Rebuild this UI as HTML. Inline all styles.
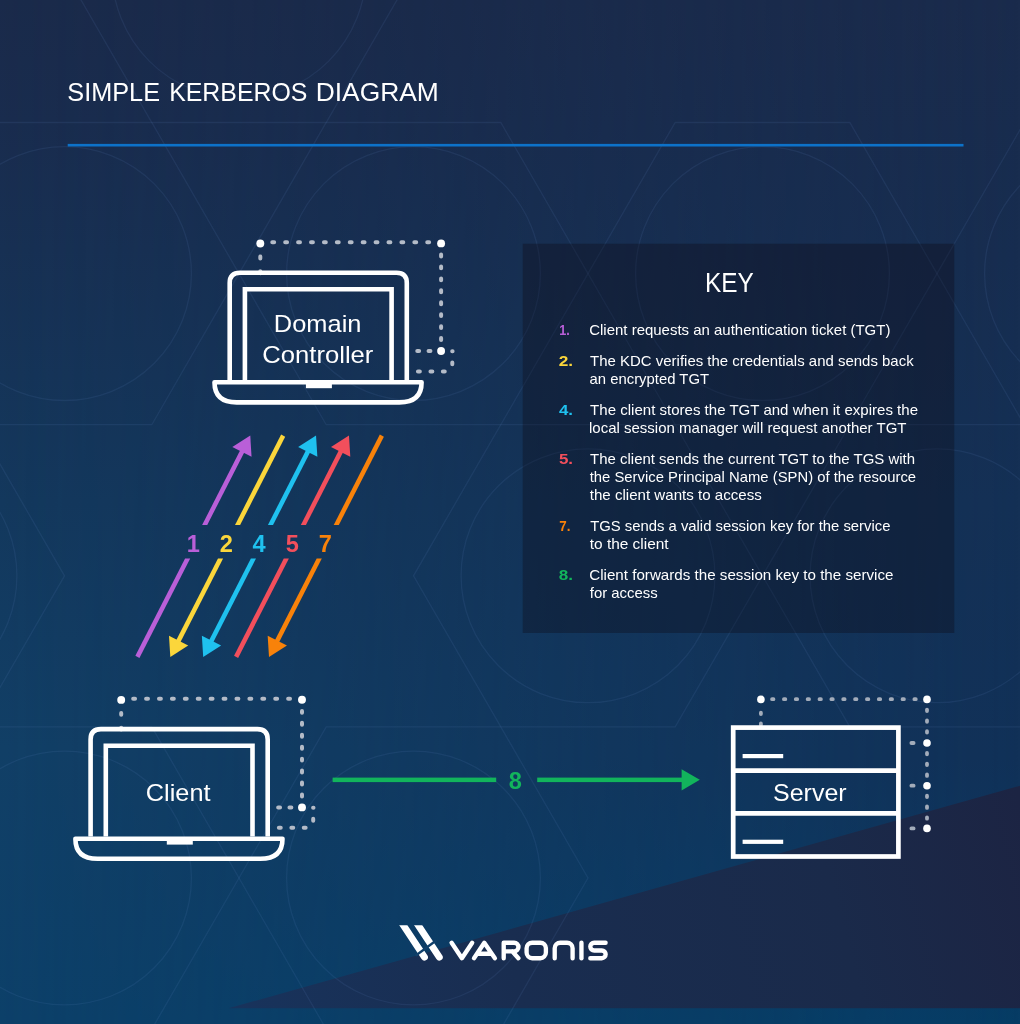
<!DOCTYPE html>
<html>
<head>
<meta charset="utf-8">
<title>Simple Kerberos Diagram</title>
<style>
html,body{margin:0;padding:0;background:#16365f;}
body{width:1020px;height:1024px;overflow:hidden;font-family:"Liberation Sans",sans-serif;}
svg{display:block;will-change:transform;}
text{font-family:"Liberation Sans",sans-serif;}
</style>
</head>
<body>
<svg width="1020" height="1024" viewBox="0 0 1020 1024">
<defs>
  <linearGradient id="bgR" x1="0" y1="0" x2="0" y2="1024" gradientUnits="userSpaceOnUse">
    <stop offset="0" stop-color="#1a2b4c"/>
    <stop offset="0.25" stop-color="#172d50"/>
    <stop offset="0.49" stop-color="#143055"/>
    <stop offset="0.74" stop-color="#113158"/>
    <stop offset="0.9" stop-color="#0b3760"/>
    <stop offset="1" stop-color="#063c65"/>
  </linearGradient>
  <linearGradient id="bgL" x1="0" y1="0" x2="0" y2="1024" gradientUnits="userSpaceOnUse">
    <stop offset="0" stop-color="#1a2a4a"/>
    <stop offset="0.12" stop-color="#192c4e"/>
    <stop offset="0.49" stop-color="#13385d"/>
    <stop offset="0.73" stop-color="#113f66"/>
    <stop offset="1" stop-color="#0c4069"/>
  </linearGradient>
  <linearGradient id="fadeX" x1="0" y1="0" x2="1020" y2="0" gradientUnits="userSpaceOnUse">
    <stop offset="0" stop-color="#fff" stop-opacity="1"/>
    <stop offset="1" stop-color="#fff" stop-opacity="0"/>
  </linearGradient>
  <mask id="mL" maskUnits="userSpaceOnUse" x="0" y="0" width="1020" height="1024">
    <rect width="1020" height="1024" fill="url(#fadeX)"/>
  </mask>
  <linearGradient id="tri" x1="228" y1="1008" x2="1020" y2="800" gradientUnits="userSpaceOnUse">
    <stop offset="0" stop-color="#18335c"/>
    <stop offset="0.35" stop-color="#192d50"/>
    <stop offset="0.75" stop-color="#1a2a4a"/>
    <stop offset="1" stop-color="#1c2443"/>
  </linearGradient>
  <g id="laptop">
    <path fill="none" stroke="#b4bbc7" stroke-width="4.0" stroke-linecap="round" d="M272.26 242.30h1.9M285.18 242.30h1.9M298.09 242.30h1.9M311.01 242.30h1.9M323.92 242.30h1.9M336.83 242.30h1.9M349.75 242.30h1.9M362.66 242.30h1.9M375.58 242.30h1.9M388.49 242.30h1.9M401.40 242.30h1.9M414.32 242.30h1.9M427.23 242.30h1.9M441.10 254.49v1.9M441.10 266.44v1.9M441.10 278.38v1.9M441.10 290.33v1.9M441.10 302.27v1.9M441.10 314.21v1.9M441.10 326.16v1.9M441.10 338.10v1.9M260.30 256.55v1.9M260.30 271.25v1.9M417.25 351.10h1.9M428.55 351.10h1.9M452.2 351.3h0.4M452.30 362.45v1.9M417.95 371.40h1.9M430.45 371.40h1.9M442.85 371.40h1.9"/>
    <circle cx="260.3" cy="243.5" r="3.95" fill="#fff"/>
    <circle cx="441.1" cy="243.4" r="3.95" fill="#fff"/>
    <circle cx="441.1" cy="351.0" r="3.95" fill="#fff"/>
    <path d="M229.7 380 V283 Q229.7 272.7 240 272.7 H396.5 Q406.8 272.7 406.8 283 V380" fill="none" stroke="#fff" stroke-width="4.6"/>
    <path d="M244.9 380 V289.3 H391.6 V380" fill="none" stroke="#fff" stroke-width="4.6"/>
    <path d="M214.5 382.3 H421.6 Q421.6 402.4 399.4 402.4 H236.7 Q214.5 402.4 214.5 382.3 Z" fill="none" stroke="#fff" stroke-width="4.6" stroke-linejoin="round"/>
    <rect x="305.9" y="382" width="26" height="6.2" fill="#fff"/>
  </g>
</defs>
<rect width="1020" height="1024" fill="url(#bgR)"/>
<rect width="1020" height="1024" fill="url(#bgL)" mask="url(#mL)"/>
<polygon points="228.5,1008.3 1020,785.8 1020,1008.3" fill="url(#tri)"/>

<g fill="none" stroke="#6a93d0" stroke-opacity="0.11" stroke-width="1.3">
<polygon points="413.5,-28.6 326.2,122.5 151.8,122.5 64.5,-28.6 151.8,-179.7 326.2,-179.7"/><circle cx="239" cy="-28.6" r="126.9"/>
<polygon points="239.0,273.6 151.8,424.7 -22.8,424.7 -110.0,273.6 -22.8,122.5 151.8,122.5"/><circle cx="64.5" cy="273.6" r="126.9"/>
<polygon points="588.0,273.6 500.8,424.7 326.2,424.7 239.0,273.6 326.2,122.5 500.8,122.5"/><circle cx="413.5" cy="273.6" r="126.9"/>
<polygon points="937.0,273.6 849.8,424.7 675.2,424.7 588.0,273.6 675.2,122.5 849.8,122.5"/><circle cx="762.5" cy="273.6" r="126.9"/>
<polygon points="1286.0,273.6 1198.8,424.7 1024.2,424.7 937.0,273.6 1024.2,122.5 1198.8,122.5"/><circle cx="1111.5" cy="273.6" r="126.9"/>
<polygon points="64.5,575.8 -22.8,726.9 -197.2,726.9 -284.5,575.8 -197.2,424.7 -22.8,424.7"/><circle cx="-110" cy="575.8" r="126.9"/>
<polygon points="762.5,575.8 675.2,726.9 500.8,726.9 413.5,575.8 500.8,424.7 675.2,424.7"/><circle cx="588" cy="575.8" r="126.9"/>
<polygon points="1111.5,575.8 1024.2,726.9 849.8,726.9 762.5,575.8 849.8,424.7 1024.2,424.7"/><circle cx="937" cy="575.8" r="126.9"/>
<polygon points="239.0,878.0 151.8,1029.1 -22.8,1029.1 -110.0,878.0 -22.8,726.9 151.8,726.9"/><circle cx="64.5" cy="878" r="126.9"/>
<polygon points="588.0,878.0 500.8,1029.1 326.2,1029.1 239.0,878.0 326.2,726.9 500.8,726.9"/><circle cx="413.5" cy="878" r="126.9"/>
</g>


<!-- title -->
<text x="67.29" y="101.4" font-size="26.2" fill="#fff" textLength="92.73" lengthAdjust="spacingAndGlyphs">SIMPLE</text>
<text x="169.20" y="101.4" font-size="26.2" fill="#fff" textLength="138.22" lengthAdjust="spacingAndGlyphs">KERBEROS</text>
<text x="315.68" y="101.4" font-size="26.2" fill="#fff" textLength="123.15" lengthAdjust="spacingAndGlyphs">DIAGRAM</text>
<rect x="67.7" y="143.9" width="895.8" height="2.6" fill="#0d72c9"/>

<!-- key panel -->
<rect x="522.7" y="243.7" width="431.6" height="389.3" fill="#0b0005" fill-opacity="0.27"/>
<text x="704.92" y="292.0" font-size="27.7" fill="#fff" textLength="48.76" lengthAdjust="spacingAndGlyphs">KEY</text>
<text x="589.23" y="334.8" font-size="14.6" fill="#fff" textLength="301.18" lengthAdjust="spacingAndGlyphs">Client requests an authentication ticket (TGT)</text>
<text x="590.14" y="365.7" font-size="14.6" fill="#fff" textLength="323.52" lengthAdjust="spacingAndGlyphs">The KDC verifies the credentials and sends back</text>
<text x="589.49" y="383.7" font-size="14.6" fill="#fff" textLength="119.58" lengthAdjust="spacingAndGlyphs">an encrypted TGT</text>
<text x="590.14" y="414.7" font-size="14.6" fill="#fff" textLength="327.89" lengthAdjust="spacingAndGlyphs">The client stores the TGT and when it expires the</text>
<text x="588.97" y="432.7" font-size="14.6" fill="#fff" textLength="317.52" lengthAdjust="spacingAndGlyphs">local session manager will request another TGT</text>
<text x="590.14" y="463.6" font-size="14.6" fill="#fff" textLength="324.90" lengthAdjust="spacingAndGlyphs">The client sends the current TGT to the TGS with</text>
<text x="589.75" y="481.7" font-size="14.6" fill="#fff" textLength="326.37" lengthAdjust="spacingAndGlyphs">the Service Principal Name (SPN) of the resource</text>
<text x="589.74" y="499.8" font-size="14.6" fill="#fff" textLength="172.02" lengthAdjust="spacingAndGlyphs">the client wants to access</text>
<text x="590.15" y="530.7" font-size="14.6" fill="#fff" textLength="300.26" lengthAdjust="spacingAndGlyphs">TGS sends a valid session key for the service</text>
<text x="589.74" y="548.7" font-size="14.6" fill="#fff" textLength="78.91" lengthAdjust="spacingAndGlyphs">to the client</text>
<text x="589.22" y="579.6" font-size="14.6" fill="#fff" textLength="304.28" lengthAdjust="spacingAndGlyphs">Client forwards the session key to the service</text>
<text x="589.74" y="597.5" font-size="14.6" fill="#fff" textLength="67.98" lengthAdjust="spacingAndGlyphs">for access</text>
<text x="559.25" y="334.8" font-size="14.6" font-weight="bold" fill="#b95fd8" textLength="10.55" lengthAdjust="spacingAndGlyphs">1.</text>
<text x="558.71" y="365.7" font-size="14.6" font-weight="bold" fill="#fbd63b" textLength="14.38" lengthAdjust="spacingAndGlyphs">2.</text>
<text x="559.01" y="414.7" font-size="14.6" font-weight="bold" fill="#1fc1ef" textLength="14.05" lengthAdjust="spacingAndGlyphs">4.</text>
<text x="558.92" y="463.6" font-size="14.6" font-weight="bold" fill="#f24f5c" textLength="14.15" lengthAdjust="spacingAndGlyphs">5.</text>
<text x="559.24" y="530.7" font-size="14.6" font-weight="bold" fill="#f8820a" textLength="11.21" lengthAdjust="spacingAndGlyphs">7.</text>
<text x="558.81" y="579.6" font-size="14.6" font-weight="bold" fill="#12b45c" textLength="14.27" lengthAdjust="spacingAndGlyphs">8.</text>

<!-- laptops -->
<use href="#laptop"/>
<text x="273.86" y="331.9" font-size="23.8" fill="#fff" textLength="87.54" lengthAdjust="spacingAndGlyphs">Domain</text>
<text x="262.36" y="362.5" font-size="23.8" fill="#fff" textLength="111.00" lengthAdjust="spacingAndGlyphs">Controller</text>
<use href="#laptop" transform="translate(-139.1 456.4)"/>
<text x="145.87" y="800.5" font-size="23.8" fill="#fff" textLength="64.63" lengthAdjust="spacingAndGlyphs">Client</text>

<!-- arrows -->
<polygon fill="#b95fd8" points="250.26,435.60 251.57,456.81 232.33,447.00"/>
<polygon fill="#b95fd8" points="240.43,449.87 244.49,451.94 207.22,525.00 202.12,525.00"/>
<polygon fill="#b95fd8" points="185.08,558.40 190.19,558.40 139.43,657.93 135.37,655.87"/>
<polygon fill="#fbd63b" points="281.14,434.57 285.19,436.63 240.12,525.00 235.02,525.00"/>
<polygon fill="#fbd63b" points="170.30,656.90 188.24,645.50 168.99,635.69"/>
<polygon fill="#fbd63b" points="217.98,558.40 223.09,558.40 180.13,642.63 176.08,640.56"/>
<polygon fill="#1fc1ef" points="316.06,435.60 317.37,456.81 298.13,447.00"/>
<polygon fill="#1fc1ef" points="306.23,449.87 310.29,451.94 273.02,525.00 267.92,525.00"/>
<polygon fill="#1fc1ef" points="203.20,656.90 221.14,645.50 201.89,635.69"/>
<polygon fill="#1fc1ef" points="250.88,558.40 255.99,558.40 213.03,642.63 208.98,640.56"/>
<polygon fill="#f24f5c" points="348.96,435.60 350.27,456.81 331.03,447.00"/>
<polygon fill="#f24f5c" points="339.13,449.87 343.19,451.94 305.92,525.00 300.82,525.00"/>
<polygon fill="#f24f5c" points="283.78,558.40 288.89,558.40 238.13,657.93 234.07,655.87"/>
<polygon fill="#f8820a" points="379.84,434.57 383.89,436.63 338.82,525.00 333.72,525.00"/>
<polygon fill="#f8820a" points="269.00,656.90 286.94,645.50 267.69,635.69"/>
<polygon fill="#f8820a" points="316.68,558.40 321.79,558.40 278.83,642.63 274.78,640.56"/>
<text x="193.2" y="551.6" font-size="23.6" font-weight="bold" text-anchor="middle" fill="#b95fd8">1</text>
<text x="226.2" y="551.6" font-size="23.6" font-weight="bold" text-anchor="middle" fill="#fbd63b">2</text>
<text x="259.0" y="551.6" font-size="23.6" font-weight="bold" text-anchor="middle" fill="#1fc1ef">4</text>
<text x="292.4" y="551.6" font-size="23.6" font-weight="bold" text-anchor="middle" fill="#f24f5c">5</text>
<text x="325.3" y="551.6" font-size="23.6" font-weight="bold" text-anchor="middle" fill="#f8820a">7</text>


<!-- green arrow -->
<rect x="332.6" y="777.6" width="163.6" height="4.5" fill="#12b45c"/>
<rect x="537.2" y="777.6" width="146" height="4.5" fill="#12b45c"/>
<polygon points="681.6,769.2 699.8,779.8 681.6,790.4" fill="#12b45c"/>
<text x="515.2" y="788.7" font-size="23.6" font-weight="bold" text-anchor="middle" fill="#12b45c">8</text>

<!-- server -->
<g fill="none" stroke="#a3acba" stroke-width="3.8" stroke-linecap="round" stroke-dasharray="1.4 10.46">
  <path d="M772.06 699.2 H922"/>
</g>
<g fill="none" stroke="#a3acba" stroke-width="3.8" stroke-linecap="round" stroke-dasharray="1.4 9.4">
  <path d="M927 709.6 V738"/>
  <path d="M927 752.9 V781"/>
  <path d="M927 795.7 V824"/>
  <path d="M760.9 712.7 V725"/>
</g>
<g fill="none" stroke="#a3acba" stroke-width="3.8" stroke-linecap="round">
  <path d="M911.4 743 h2.2 M911.4 785.7 h2.2 M911.4 828.4 h2.2"/>
</g>
<g fill="#fff">
  <circle cx="760.9" cy="699.4" r="3.8"/>
  <circle cx="927" cy="699.4" r="3.8"/>
  <circle cx="927" cy="743" r="3.8"/>
  <circle cx="927" cy="785.7" r="3.8"/>
  <circle cx="927" cy="828.4" r="3.8"/>
</g>
<g fill="none" stroke="#fff" stroke-width="4.7">
  <rect x="733.2" y="727.6" width="165.2" height="128.9"/>
  <path d="M733 770.6 H898.5 M733 813.4 H898.5"/>
</g>
<rect x="742.6" y="754" width="40.6" height="4.2" fill="#fff"/>
<rect x="742.6" y="839.7" width="40.6" height="4.2" fill="#fff"/>
<text x="773.04" y="800.6" font-size="23.5" fill="#fff" textLength="73.56" lengthAdjust="spacingAndGlyphs">Server</text>

<!-- logo -->
<g>
  <clipPath id="lc"><rect x="390" y="925.3" width="70" height="40"/></clipPath>
  <g clip-path="url(#lc)" stroke="#fff" stroke-width="6.85" stroke-linecap="round" fill="none">
    <path d="M396.8 915.3 L424.45 957.2"/>
    <path d="M411.65 915.3 L439.3 957.2"/>
  </g>
  <path d="M415.5 955.7 L436.5 940.3" stroke="#10406b" stroke-width="2.3" fill="none"/>
  <g stroke="#fff" stroke-width="4.35" stroke-linecap="round" stroke-linejoin="round" fill="none" transform="translate(0 0.3)">
    <path d="M451.6 942.5 L461.9 957.9 L472.2 942.5"/>
    <path d="M474 957.9 L484.3 942.5 L494.9 957.9 M478.5 953.4 H490.5"/>
    <path d="M503.7 957.9 V942.4 H514.2 A4.3 4.3 0 0 1 514.2 951 H503.7 M512.2 951 L518.4 957.9"/>
    <rect x="526.6" y="942.4" width="19.3" height="15.5" rx="5.6" ry="5.6"/>
    <path d="M554.7 957.9 V948 A5.6 5.6 0 0 1 560.3 942.4 H567 A5.6 5.6 0 0 1 572.6 948 V957.9"/>
    <path d="M581.45 942.4 V957.9"/>
    <path d="M605.6 942.4 H594.2 A3.9 3.9 0 0 0 594.2 950.2 H601.8 A3.85 3.85 0 0 1 601.8 957.9 H590.3"/>
  </g>
</g>
</svg>
</body>
</html>
